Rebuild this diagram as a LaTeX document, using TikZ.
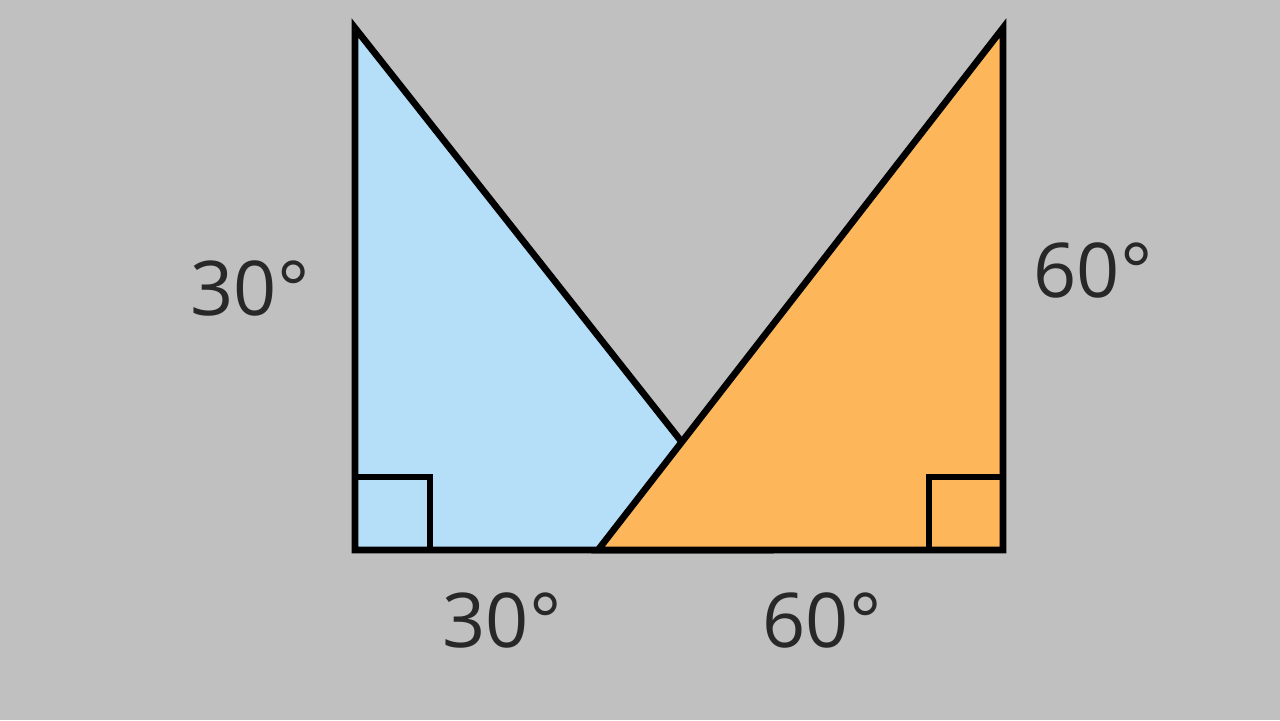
\documentclass[tikz,border=0pt]{standalone}
\usepackage{fontspec}
\setmainfont{Open Sans}
\definecolor{bggray}{RGB}{192,192,192}
\definecolor{skyblue}{RGB}{181,222,249}
\definecolor{sunorange}{RGB}{253,182,90}
\definecolor{labelgray}{RGB}{40,40,40}

\tikzset{
  tri/.style = {draw = black , line width=3.8pt , line join=miter},
  rightmark/.style = {draw = black , line width=3.4pt},
  angle label/.style = {text=labelgray , font=\fontsize{43}{52}\selectfont , inner sep=0pt}
}

\begin{document}
\begin{tikzpicture}[x=0.02cm , y=-0.02cm]

\fill[bggray] (0,0) rectangle (1280,720) ;
\useasboundingbox (0,0) rectangle (1280,720) ;

\filldraw[tri , fill= skyblue] (355,28) -- (355,550) -- (767,550) -- cycle ;
\draw[rightmark] (355,477) -- (430,477) -- (430,550) ;

\filldraw[tri , fill= sunorange] (1003,28) -- (1003,550) -- (598,550) -- cycle ;
\draw[rightmark] (1003,477) -- (929,477) -- (929,550) ;

\node[angle label] (leftangle) at (250,288){30°} ;
\node[angle label] (rightangle) at (1093,270){60°} ;
\node[angle label] (bottomleft) at (502,620){30°} ;
\node[angle label] (bottomright) at (822,620){60°} ;

\end{tikzpicture}
\end{document}
